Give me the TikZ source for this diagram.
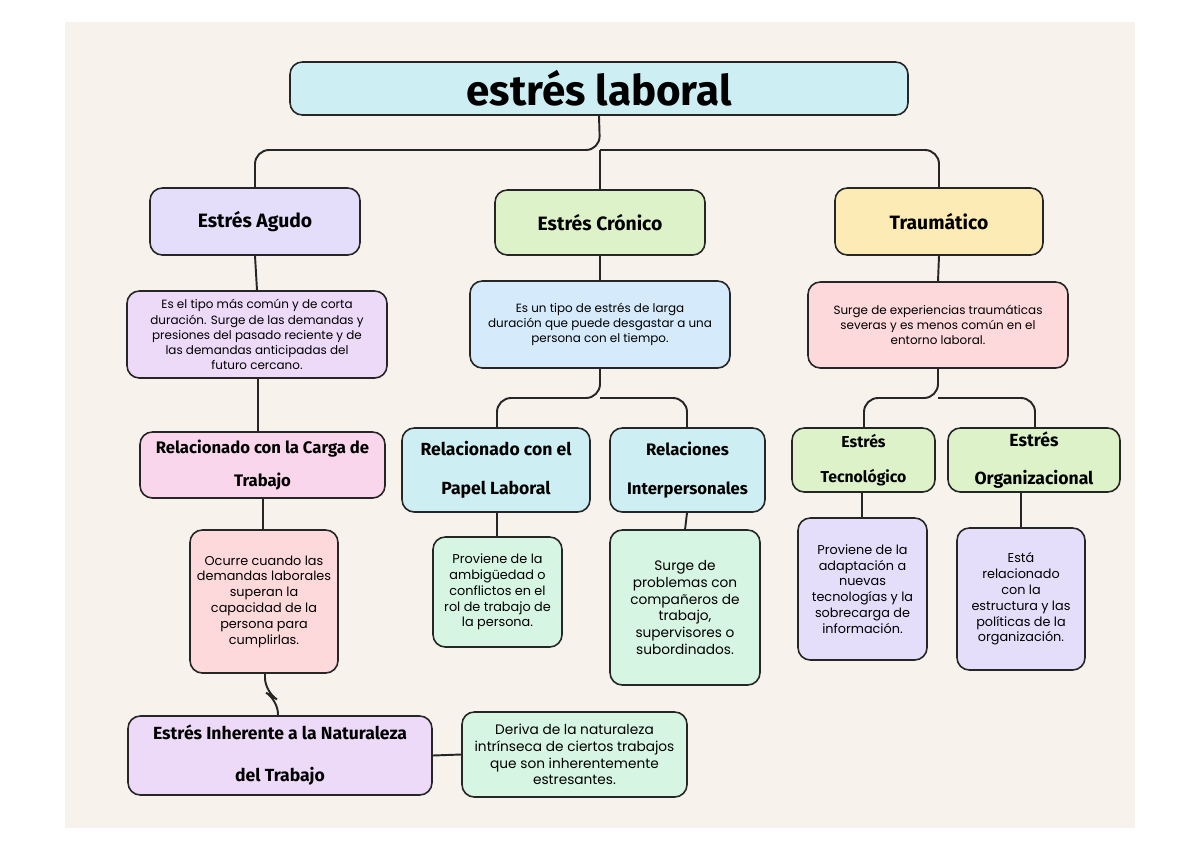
\documentclass[tikz,border=0pt]{standalone}
\usepackage{fontspec}
\setmainfont{Poppins}
\newfontfamily\hd{Fira Sans}
\begin{document}
\begin{tikzpicture}[x=0.02cm,y=-0.02cm,
  bx/.style={draw=black!85,line width=0.9pt,rounded corners=7pt,align=center,inner sep=0pt},
  hdt/.style={font=\hd\bfseries\fontsize{11}{16}\selectfont},
  bd/.style={font=\fontsize{6.8}{8.6}\selectfont},
  ln/.style={draw=black!85,line width=1.1pt,rounded corners=8pt}]
\definecolor{cyan1}{HTML}{CDEFF3}\definecolor{lav}{HTML}{E4DEFB}
\definecolor{grn}{HTML}{DDF2C8}\definecolor{yel}{HTML}{FDEBB5}
\definecolor{lavp}{HTML}{EDD9F8}\definecolor{blu}{HTML}{D5EAFB}
\definecolor{pnk}{HTML}{FDD9DC}\definecolor{pnk2}{HTML}{F9D6EC}
\definecolor{mint}{HTML}{D6F5E3}\definecolor{cream}{HTML}{F7F2EC}
\useasboundingbox (0,0) rectangle (1200,849);
\fill[cream] (65,22) rectangle (1135,828);
\newcommand\bxn[7]{\node[bx,fill=#6,minimum width={(#4-#2)*0.02cm},minimum height={(#5-#3)*0.02cm},#7] (#1) at ({(#2+#4)/2},{(#3+#5)/2})}
\bxn{t}{290}{62}{908}{115}{cyan1}{font=\hd\bfseries\fontsize{24}{28}\selectfont}{estrés laboral};
\bxn{a}{150}{188}{360}{255}{lav}{hdt}{Estrés Agudo};
\bxn{c}{495}{190}{705}{255}{grn}{hdt}{Estrés Crónico};
\bxn{tr}{835}{188}{1043}{255}{yel}{hdt}{Traumático};
\bxn{ad}{127}{291}{387}{378}{lavp}{bd}{Es el tipo más común y de corta\\duración. Surge de las demandas y\\presiones del pasado reciente y de\\las demandas anticipadas del\\futuro cercano.};
\bxn{cd}{470}{281}{730}{368}{blu}{bd}{Es un tipo de estrés de larga\\duración que puede desgastar a una\\persona con el tiempo.};
\bxn{td}{808}{282}{1068}{368}{pnk}{bd}{Surge de experiencias traumáticas\\severas y es menos común en el\\entorno laboral.};
\bxn{cg}{140}{432}{385}{498}{pnk2}{hdt,font=\hd\bfseries\fontsize{9.5}{19}\selectfont}{Relacionado con la Carga de\\Trabajo};
\bxn{pl}{402}{428}{590}{512}{cyan1}{hdt,font=\hd\bfseries\fontsize{10}{22}\selectfont}{Relacionado con el\\Papel Laboral};
\bxn{ri}{610}{428}{765}{512}{cyan1}{hdt,font=\hd\bfseries\fontsize{9.5}{22}\selectfont}{Relaciones\\Interpersonales};
\bxn{te}{792}{428}{935}{492}{grn}{hdt,font=\hd\bfseries\fontsize{9}{20}\selectfont}{Estrés\\Tecnológico};
\bxn{or}{948}{428}{1120}{492}{grn}{hdt,font=\hd\bfseries\fontsize{10}{22}\selectfont}{Estrés\\Organizacional};
\bxn{oc}{190}{530}{338}{673}{pnk}{bd,font=\fontsize{7.3}{9}\selectfont}{Ocurre cuando las\\demandas laborales\\superan la\\capacidad de la\\persona para\\cumplirlas.};
\bxn{pd}{433}{537}{562}{647}{mint}{bd,font=\fontsize{7.3}{9}\selectfont}{Proviene de la\\ambigüedad o\\conflictos en el\\rol de trabajo de\\la persona.};
\bxn{sd}{610}{530}{760}{685}{mint}{bd,font=\fontsize{7.8}{9.6}\selectfont}{Surge de\\problemas con\\compañeros de\\trabajo,\\supervisores o\\subordinados.};
\bxn{ted}{798}{518}{927}{660}{lav}{bd,font=\fontsize{7.3}{9}\selectfont}{Proviene de la\\adaptación a\\nuevas\\tecnologías y la\\sobrecarga de\\información.};
\bxn{ord}{957}{528}{1085}{670}{lav}{bd,font=\fontsize{7.3}{9}\selectfont}{Está\\relacionado\\con la\\estructura y las\\políticas de la\\organización.};
\bxn{ih}{128}{716}{432}{795}{lavp}{hdt,font=\hd\bfseries\fontsize{10}{24}\selectfont}{Estrés Inherente a la Naturaleza\\del Trabajo};
\bxn{dv}{462}{712}{687}{797}{mint}{bd,font=\fontsize{7.8}{9.6}\selectfont}{Deriva de la naturaleza\\intrínseca de ciertos trabajos\\que son inherentemente\\estresantes.};
\coordinate (j1) at (600,150);
\draw[ln] (t.south) -- (j1) -| (a.north);
\draw[ln] (j1) -| (tr.north);
\draw[ln] (j1) -- (c.north);
\draw[ln] (a.south) -- (ad.north);
\draw[ln] (c.south) -- (cd.north);
\draw[ln] (tr.south) -- (td.north);
\draw[ln] (ad.south -| 258,0) -- (258,432);
\draw[ln] (cg.south -| 263,0) -- (263,530);
\draw[ln] (oc.south -| 265,0) -- (265,692) -- (278,700) -- (278,716);
\coordinate (j2) at (600,398);
\draw[ln] (cd.south) -- (j2) -| (pl.north -| 497,0);
\draw[ln] (j2) -| (ri.north -| 687,0);
\coordinate (j3) at (938,398);
\draw[ln] (td.south -| 938,0) -- (j3) -| (te.north -| 864,0);
\draw[ln] (j3) -| (or.north -| 1035,0);
\draw[ln] (pl.south -| 497,0) -- (497,537);
\draw[ln] (ri.south -| 687,0) -- (685,530);
\draw[ln] (te.south -| 862,0) -- (862,518);
\draw[ln] (or.south -| 1021,0) -- (1021,528);
\draw[ln] (ih.east) -- (dv.west);
\end{tikzpicture}
\end{document}
